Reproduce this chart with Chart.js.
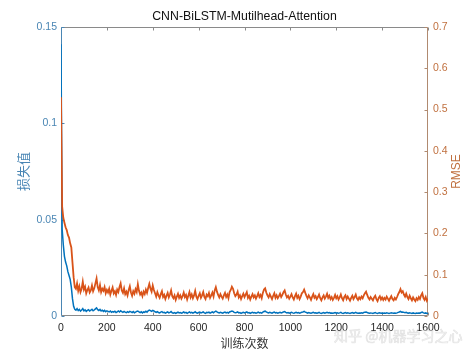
<!DOCTYPE html>
<html><head><meta charset="utf-8">
<script src="https://cdn.jsdelivr.net/npm/chart.js@4"></script>
<style>html,body{margin:0;padding:0;background:#fff}#c{display:block}</style>
</head><body>
<canvas id="c" width="474" height="355" style="width:474px;height:355px"></canvas>
<script>
const chartTitle = 'CNN-BiLSTM-Mutilhead-Attention';
const xTitle = '训练次数';
const yLeftTitle = '损失值';
const yRightTitle = 'RMSE';
const watermark = '知乎 @机器学习之心';
const iterStep = 5;
const xTicks = [0, 200, 400, 600, 800, 1000, 1200, 1400, 1600];
const lossTicks = [0, 0.05, 0.1, 0.15];
const rmseTicks = [0, 0.1, 0.2, 0.3, 0.4, 0.5, 0.6, 0.7];

const lossValues = [
.141,.045,.037,.031,.028,.026,.023,.021,.019,.015,.009,.005,.0035,.003,.0038,
.0028,.0034,.0025,.0031,.0038,.0027,.0032,.0024,.0029,.0033,.0026,.003,.0035,.0027,.0031,.0037,.0042,.0033,.0028,.0034,.0026,.003,.0024,.0029,.0022,.0027,
.0024,.0021,.0026,.0019,.0023,.002,.0025,.0018,.0022,.0026,
.0021,.0027,.0023,.0019,.0024,.002,.0017,.0022,.0019,.0024,
.0021,.0018,.0023,.0017,.002,.0024,.0026,.0021,.0018,.0022,
.0016,.0021,.0019,.0025,.002,.0027,.0031,.0028,.0024,.0029,
.0026,.0022,.0019,.0023,.0018,.0016,.002,.0023,.0017,.0019,
.0015,.0018,.0021,.0016,.0019,.0023,.0017,.0015,.0018,.0014,
.0017,.002,.0016,.0018,.0015,.0017,.0021,.0016,.0019,.0014,
.0018,.0021,.0016,.0019,.0015,.0018,.0022,.0017,.0015,.0018,
.002,.0016,.0018,.0021,.0016,.0014,.0019,.0017,.002,.0015,
.0018,.0021,.0017,.0022,.0025,.0021,.0018,.0016,.0019,.0017,
.0015,.0018,.002,.0016,.0019,.0015,.0021,.0023,.0026,.0024,
.0019,.0017,.0018,.0021,.0016,.0018,.0014,.0017,.0019,.0016,
.0019,.0021,.0016,.0018,.0014,.0017,.0019,.0016,.0018,.0015,
.0017,.002,.0016,.0018,.0015,.002,.0023,.0025,.0021,.0018,
.0016,.0019,.0017,.0015,.0018,.002,.0016,.0018,.0015,.0017,
.0019,.0016,.0018,.0021,.0023,.0019,.0016,.0018,.0015,.0017,
.0019,.0016,.0014,.0017,.0019,.0016,.0018,.0015,.0017,.002,
.0021,.0024,.002,.0018,.0015,.0018,.0016,.0014,.0017,.0019,
.0016,.0017,.0015,.0016,.0019,.0015,.0013,.0016,.0018,.0015,
.0017,.0019,.0016,.0018,.0015,.0016,.0014,.0016,.0018,.0015,
.0017,.0014,.0016,.0019,.0015,.0013,.0016,.0018,.0015,.0017,
.0015,.0013,.0016,.0018,.0015,.0016,.0019,.0015,.0014,.0016,
.0015,.0017,.0015,.0018,.002,.0021,.0018,.0016,.0014,.0016,
.0015,.0013,.0016,.0018,.0015,.0013,.0016,.0017,.0014,.0016,
.0014,.0016,.0014,.0017,.0015,.0013,.0015,.0017,.0015,.0014,
.0016,.0014,.0016,.0019,.0021,.0024,.002,.0021,.0019,.0017,
.0019,.0016,.0015,.0017,.0015,.0013,.0016,.0014,.0013,.0015,
.0014,.0016,.0015,.0018,.002,.0016,.0014,.0016,.0013,.0015
];

const rmseValues = [
.53,.265,.238,.226,.215,.208,.196,.19,.176,.166,.13,.094,.07,.066,.079,
.061,.072,.058,.066,.083,.064,.071,.055,.063,.069,.057,.062,.074,.06,.067,.079,.091,.07,.062,.075,.058,.066,.061,.07,.055,.063,
.057,.066,.052,.061,.069,.055,.06,.051,.064,.058,
.07,.079,.062,.056,.067,.053,.059,.05,.063,.072,
.057,.049,.06,.054,.065,.058,.077,.061,.052,.057,
.048,.059,.053,.064,.056,.068,.078,.066,.059,.074,
.063,.055,.047,.058,.05,.044,.053,.06,.046,.051,
.041,.049,.056,.045,.052,.062,.048,.043,.05,.039,
.047,.054,.044,.05,.042,.048,.057,.046,.051,.04,
.049,.058,.045,.052,.043,.05,.061,.047,.041,.049,
.055,.044,.05,.058,.046,.041,.052,.048,.056,.044,
.05,.057,.047,.062,.07,.059,.051,.045,.053,.047,
.042,.05,.056,.046,.052,.043,.058,.063,.071,.066,
.055,.048,.052,.059,.045,.05,.041,.048,.054,.046,
.052,.058,.044,.049,.04,.047,.053,.045,.05,.042,
.048,.055,.046,.051,.043,.056,.064,.067,.057,.05,
.045,.053,.047,.041,.049,.055,.044,.05,.043,.048,
.054,.046,.051,.058,.062,.052,.045,.049,.042,.047,
.053,.045,.04,.048,.054,.044,.049,.041,.047,.055,
.058,.064,.056,.049,.043,.05,.045,.039,.047,.053,
.044,.048,.041,.046,.052,.043,.038,.045,.05,.042,
.047,.054,.044,.049,.041,.046,.039,.044,.051,.043,
.048,.04,.045,.052,.043,.038,.046,.05,.041,.047,
.042,.037,.044,.049,.041,.046,.052,.043,.039,.045,
.041,.047,.043,.05,.055,.059,.051,.044,.04,.046,
.042,.038,.045,.049,.041,.036,.044,.048,.04,.045,
.039,.044,.04,.047,.042,.037,.043,.048,.041,.038,
.044,.04,.046,.053,.058,.065,.057,.06,.052,.047,
.054,.046,.041,.049,.043,.038,.045,.04,.036,.043,
.039,.046,.041,.05,.055,.044,.039,.046,.037,.042
];

if (lossValues.length !== 321 || rmseValues.length !== 321) {
  throw new Error('length mismatch ' + lossValues.length + ' ' + rmseValues.length);
}

const iterations = lossValues.map((_, i) => i * iterStep);
const lossPoints = iterations.map((x, i) => ({x, y: lossValues[i]}));
const rmsePoints = iterations.map((x, i) => ({x, y: rmseValues[i]}));

const LEFT_COLOR = '#4a86b4';
const RIGHT_COLOR = '#c0703f';
const LOSS_LINE = '#0072BD';
const RMSE_LINE = '#D95319';
const FONT = "'Liberation Sans', Arial, sans-serif";
const CJK = "'Noto Sans CJK SC', sans-serif";

const framePlugin = {
  id: 'frame',
  beforeDatasetsDraw(chart) {
    const {ctx, chartArea: a, scales} = chart;
    const L = Math.round(a.left) + 0.5, R = Math.round(a.right) - 0.5;
    const T = Math.round(a.top) + 0.5, B = Math.round(a.bottom) - 0.5;
    const line = (x1, y1, x2, y2) => { ctx.beginPath(); ctx.moveTo(x1, y1); ctx.lineTo(x2, y2); ctx.stroke(); };
    ctx.save();
    ctx.lineWidth = 1;
    ctx.strokeStyle = '#8a8a8a';
    line(L, T, R, T); line(L, B, R, B);
    xTicks.forEach(v => {
      const x = Math.round(scales.x.getPixelForValue(v)) + 0.5;
      line(x, B, x, B - 3); line(x, T, x, T + 3);
    });
    ctx.strokeStyle = LEFT_COLOR;
    line(L, T, L, B);
    lossTicks.forEach(v => {
      const y = Math.round(scales.y.getPixelForValue(v)) + 0.5;
      line(L, y, L + 3, y);
    });
    ctx.strokeStyle = '#b08a70';
    line(R, T, R, B);
    rmseTicks.forEach(v => {
      const y = Math.round(scales.y1.getPixelForValue(v)) + 0.5;
      line(R, y, R - 3, y);
    });
    ctx.restore();
  },
  afterDraw(chart) {
    const {ctx, chartArea: a} = chart;
    ctx.save();
    const cx = (a.left + a.right) / 2, cy = (a.top + a.bottom) / 2;
    ctx.textAlign = 'center'; ctx.textBaseline = 'middle';
    ctx.fillStyle = '#111';
    ctx.font = '12.3px ' + FONT;
    ctx.fillText(chartTitle, cx, 17);
    ctx.fillStyle = '#333';
    ctx.font = '12px ' + CJK;
    ctx.fillText(xTitle, cx, 343);
    ctx.save();
    ctx.translate(23, cy); ctx.rotate(-Math.PI / 2);
    ctx.fillStyle = LEFT_COLOR; ctx.font = '13px ' + CJK;
    ctx.fillText(yLeftTitle, 0, 0);
    ctx.restore();
    ctx.save();
    ctx.translate(457, cy); ctx.rotate(-Math.PI / 2);
    ctx.fillStyle = RIGHT_COLOR; ctx.font = '12px ' + FONT;
    ctx.fillText(yRightTitle, 0, 0);
    ctx.restore();
    // watermark
    ctx.font = '14px ' + CJK;
    ctx.textAlign = 'left';
    ctx.lineWidth = 0.7;
    ctx.fillStyle = 'rgba(235,235,235,0.45)';
    ctx.strokeStyle = 'rgba(170,170,170,0.28)';
    ctx.fillText(watermark, 334, 336);
    ctx.strokeText(watermark, 334, 336);
    ctx.restore();
  }
};

new Chart(document.getElementById('c'), {
  type: 'line',
  data: {
    datasets: [
      {label: '损失值', data: lossPoints, yAxisID: 'y', borderColor: LOSS_LINE, borderWidth: 1.5, pointRadius: 0, tension: 0, order: 1},
      {label: 'RMSE', data: rmsePoints, yAxisID: 'y1', borderColor: RMSE_LINE, borderWidth: 1.8, pointRadius: 0, tension: 0, order: 0}
    ]
  },
  options: {
    responsive: false,
    devicePixelRatio: 1,
    animation: false,
    layout: {padding: {top: 27, left: 0, right: 0, bottom: 0}},
    plugins: {legend: {display: false}, tooltip: {enabled: false}, title: {display: false}},
    scales: {
      x: {
        type: 'linear', min: 0, max: 1600,
        afterBuildTicks: s => { s.ticks = xTicks.map(v => ({value: v})); },
        afterFit: s => { s.height = 39; },
        grid: {display: false, drawTicks: false}, border: {display: false},
        ticks: {color: '#262626', font: {family: FONT, size: 10.5}, padding: 6, maxRotation: 0, autoSkip: false,
                callback: v => String(v)}
      },
      y: {
        type: 'linear', position: 'left', min: 0, max: 0.15,
        afterBuildTicks: s => { s.ticks = lossTicks.map(v => ({value: v})); },
        afterFit: s => { s.width = 61; },
        grid: {display: false, drawTicks: false}, border: {display: false},
        ticks: {color: LEFT_COLOR, font: {family: FONT, size: 10.5}, padding: 4, autoSkip: false,
                callback: v => String(v)}
      },
      y1: {
        type: 'linear', position: 'right', min: 0, max: 0.7,
        afterBuildTicks: s => { s.ticks = rmseTicks.map(v => ({value: v})); },
        afterFit: s => { s.width = 46; },
        grid: {display: false, drawTicks: false}, border: {display: false},
        ticks: {color: RIGHT_COLOR, font: {family: FONT, size: 10.5}, padding: 5, autoSkip: false,
                callback: v => String(v)}
      }
    }
  },
  plugins: [framePlugin]
});
</script>
</body></html>
